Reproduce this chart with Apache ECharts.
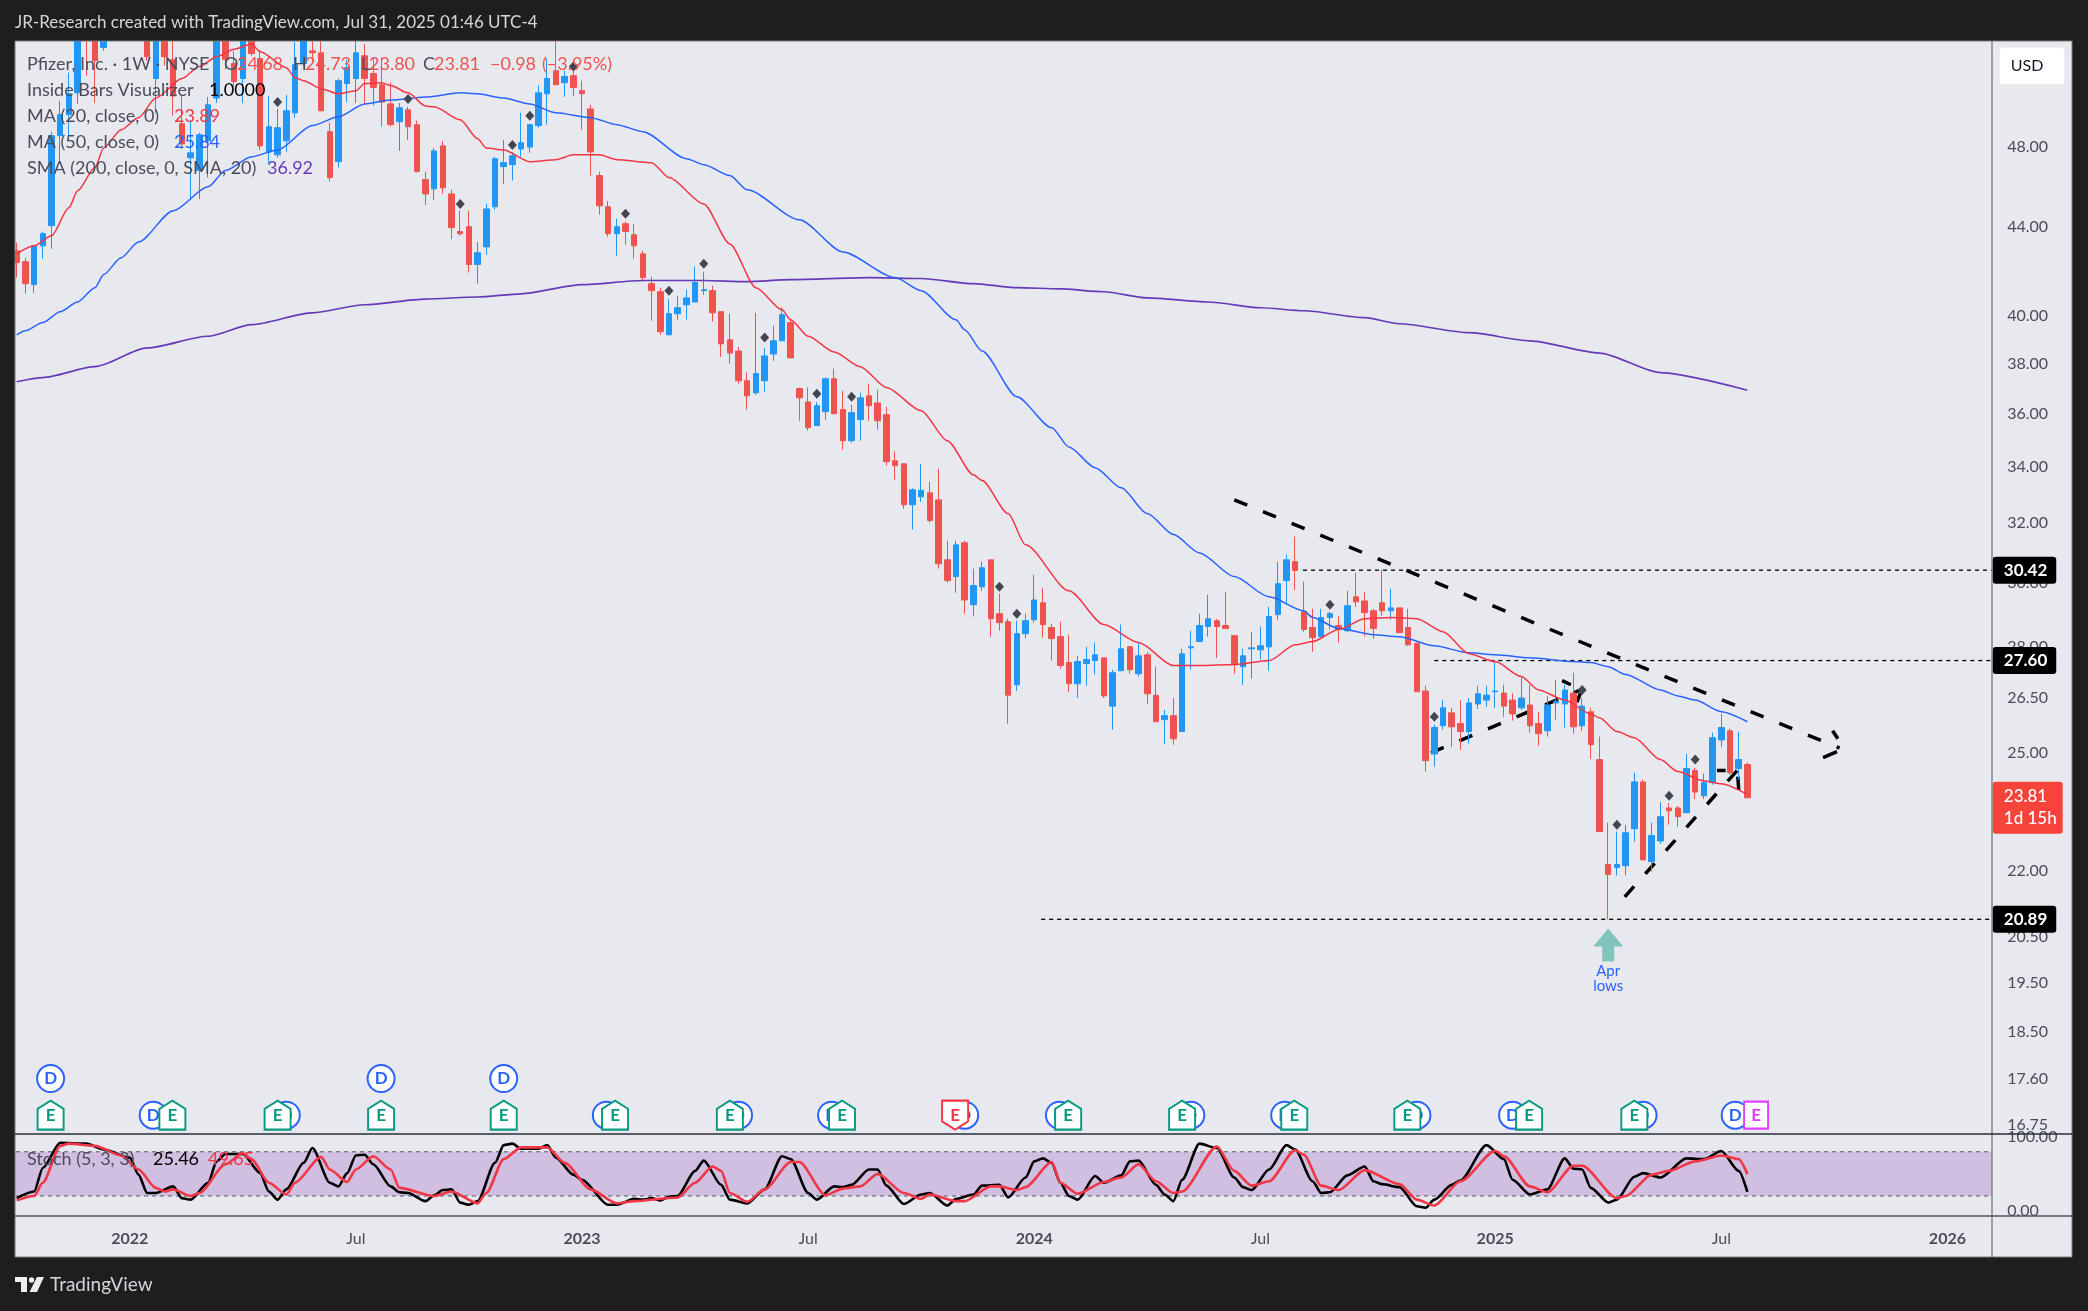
<!DOCTYPE html>
<html><head><meta charset="utf-8">
<style>html,body{margin:0;padding:0;background:#1e1e1e}#c{width:2088px;height:1311px}</style>
<script src="https://cdn.jsdelivr.net/npm/echarts@6/dist/echarts.min.js"></script>
</head><body><div id="c"></div><script>
const opens=[42.90,42.40,41.37,43.13,44.08,48.56,49.67,50.85,55.50,54.50,
53.40,55.50,57.40,56.00,58.40,56.00,51.64,55.00,52.70,49.19,
47.42,46.77,48.29,50.57,54.80,52.48,51.64,55.00,52.76,47.72,
47.57,48.29,49.77,52.48,53.20,53.09,48.77,47.22,51.36,51.64,
52.92,51.92,51.30,50.25,49.30,49.93,49.14,46.32,45.86,48.03,
45.61,43.80,44.03,42.27,43.08,44.98,46.97,47.07,47.87,47.97,
49.09,50.80,52.08,51.41,51.80,50.97,49.98,46.52,44.98,43.70,
44.17,43.65,42.76,41.41,41.05,39.19,40.09,40.48,40.60,41.10,
41.10,40.18,38.98,38.51,37.30,36.82,37.30,38.39,38.94,39.71,
36.99,36.46,35.54,36.08,37.38,36.16,34.97,35.77,36.70,36.42,
35.96,34.22,34.11,32.64,32.92,33.06,32.81,30.76,30.21,31.33,
29.31,29.88,30.76,29.03,28.78,26.89,28.41,28.84,29.37,28.60,
28.32,27.54,26.92,27.51,27.60,27.68,26.28,27.30,28.01,27.21,
27.77,26.59,25.90,26.01,25.57,27.98,28.17,28.63,28.81,28.66,
28.35,27.42,27.95,27.92,28.01,29.00,30.08,30.70,29.09,28.60,
28.32,28.91,28.66,28.50,29.56,29.43,29.12,29.37,29.12,29.21,
28.60,28.11,26.71,24.96,25.73,26.09,25.79,25.57,26.34,26.45,
26.69,26.65,26.45,26.23,26.31,25.79,25.59,26.37,26.34,26.65,
25.73,26.12,24.81,22.16,22.09,22.13,23.03,24.22,22.23,22.73,
23.55,23.55,23.43,24.52,23.86,24.20,25.34,25.59,24.57,24.68];
const closes=[42.36,41.41,43.13,43.70,48.56,49.67,50.80,54.20,54.20,52.64,
55.50,57.00,56.00,58.60,56.20,52.87,55.00,52.87,50.68,48.13,
47.67,48.61,50.20,54.50,52.70,51.47,54.00,53.04,48.03,49.03,
48.98,49.88,52.42,54.50,53.09,49.88,46.42,51.52,52.25,53.09,
51.64,51.14,50.35,49.14,50.04,49.03,46.72,45.61,47.77,45.91,
43.98,43.70,42.27,42.81,44.88,47.37,47.17,47.52,48.19,49.14,
50.85,51.64,51.30,51.75,51.14,50.80,47.72,45.03,43.70,44.03,
43.80,43.13,41.68,41.10,39.32,40.09,40.35,40.78,41.46,41.14,
40.13,38.81,38.43,37.30,36.70,37.59,38.31,38.94,40.05,38.23,
36.62,35.46,36.31,37.38,36.00,34.97,36.04,36.62,36.31,35.73,
34.19,34.04,32.64,33.17,33.15,32.09,30.63,30.08,31.26,29.46,
29.92,30.50,28.87,28.75,26.59,28.41,28.81,29.46,28.69,28.26,
27.45,26.92,27.57,27.63,27.77,26.57,27.24,27.95,27.33,27.74,
26.63,25.84,26.01,25.37,27.80,28.01,28.66,28.87,28.63,28.57,
27.51,27.74,27.98,28.04,28.94,29.98,30.76,30.41,28.54,28.29,
28.91,29.03,28.54,29.28,29.40,29.06,28.57,29.12,29.21,28.44,
28.07,26.69,24.78,25.68,26.23,25.70,25.57,26.37,26.63,26.59,
26.71,26.28,26.06,26.51,25.73,25.51,26.31,26.42,26.74,25.70,
26.28,25.21,22.96,21.92,22.16,22.93,24.22,22.27,22.86,23.33,
23.48,23.33,24.57,23.96,24.20,25.40,25.68,24.46,24.81,23.81];
const highs=[43.27,42.58,43.18,43.80,48.77,50.41,51.97,55.00,56.00,55.50,
56.00,57.80,58.50,59.40,59.00,57.00,56.00,56.00,54.00,50.68,
49.35,48.72,50.63,55.50,56.00,53.20,55.00,56.00,53.26,50.68,
49.98,50.74,53.70,55.50,54.20,54.00,49.24,51.64,52.70,54.00,
53.60,52.81,52.81,51.41,50.30,50.09,49.35,46.72,47.92,48.29,
45.81,44.79,44.79,43.31,45.12,47.47,48.34,47.72,49.77,49.19,
51.25,52.76,54.50,52.08,52.08,51.52,50.20,46.72,45.26,44.41,
44.27,44.17,42.90,41.72,41.23,40.73,40.87,41.14,42.18,41.95,
41.32,40.18,40.09,38.68,37.63,40.13,38.64,39.58,40.35,39.83,
37.03,37.03,36.46,37.43,37.79,36.90,36.35,36.82,37.18,36.94,
36.27,34.58,34.11,33.22,34.11,33.46,33.93,31.40,31.40,31.40,
30.47,30.70,30.76,29.66,28.87,28.81,29.03,30.27,29.85,28.72,
28.78,28.38,27.74,28.01,28.14,27.68,27.33,28.69,28.04,28.14,
27.86,27.42,26.17,26.51,27.95,28.50,29.03,29.62,28.87,29.72,
28.35,27.95,28.47,28.63,29.24,30.70,30.93,31.54,30.05,29.18,
29.18,29.09,28.94,29.75,30.34,29.72,29.18,30.44,29.82,29.21,
29.18,28.14,26.86,25.76,26.45,26.23,26.45,26.51,26.86,26.86,
27.57,26.89,26.65,27.10,26.89,26.12,26.57,27.04,26.89,27.24,
26.51,26.23,25.43,23.18,22.96,23.13,24.46,24.28,23.18,23.70,
23.68,23.60,24.96,24.59,24.44,25.54,26.06,25.65,25.57,24.73];
const lows=[41.68,40.96,41.01,42.54,42.99,47.12,48.29,50.25,51.80,50.30,
53.20,54.90,55.20,55.30,55.00,52.64,49.77,52.36,49.61,47.87,
45.41,45.36,46.42,50.30,52.14,51.19,50.30,52.92,47.82,47.17,
47.42,47.72,49.51,52.36,52.59,49.85,46.22,46.92,50.35,50.30,
50.30,50.14,49.03,49.03,47.77,48.34,46.67,45.07,45.31,45.61,
43.45,43.60,41.91,41.41,42.72,44.84,46.11,46.27,47.47,47.67,
48.98,49.14,51.30,50.63,50.68,48.88,46.52,44.60,43.55,42.67,
43.18,42.54,41.50,39.79,39.19,39.19,39.83,39.83,40.60,40.91,
39.75,38.27,37.99,37.18,36.16,36.74,36.86,38.11,38.94,38.23,
35.73,35.35,35.54,35.77,36.00,34.62,34.89,34.97,35.73,35.39,
34.04,33.53,32.50,31.78,32.74,32.02,30.47,30.01,29.69,29.03,
28.94,29.75,28.32,28.50,25.79,26.71,28.26,28.75,28.29,27.60,
27.36,26.68,26.51,26.86,27.19,26.51,25.62,27.30,27.21,27.13,
26.34,25.84,25.23,25.21,25.57,27.33,28.17,28.32,27.68,28.57,
27.21,26.89,27.07,27.63,27.30,28.84,29.31,29.78,28.47,27.86,
28.32,28.54,28.14,28.47,29.24,28.32,28.26,28.97,28.84,28.44,
28.04,26.69,24.49,24.62,25.62,25.15,25.07,25.24,26.20,26.26,
26.23,25.98,25.87,26.17,25.54,25.18,25.43,25.90,25.68,25.51,
25.59,24.83,22.96,20.89,21.90,21.90,22.71,22.27,21.99,22.66,
23.13,23.08,23.43,23.78,23.78,24.15,25.15,24.41,24.28,23.80];

const ma20=[[0,42.76],[2,43.13],[4,43.60],[6,44.93],[7,45.76],[9,46.92],[10,47.92],[12,48.87],[14,49.51],[16,50.57],[19,51.64],[21,52.31],[23,52.87],[25,53.30],[27,53.60],[28,53.15],[31,52.25],[32,51.70],[33,51.52],[35,51.08],[37,50.80],[39,50.97],[40,51.36],[42,51.41],[43,51.25],[45,50.85],[47,50.14],[48,50.09],[51,49.40],[53,48.40],[54,47.92],[56,47.82],[59,47.22],[62,47.32],[64,47.57],[67,47.57],[69,47.32],[73,47.17],[75,46.42],[79,45.12],[82,43.22],[85,41.23],[88,40.26],[89,39.83],[91,39.13],[94,38.47],[97,37.87],[100,37.03],[104,36.12],[107,34.97],[110,33.71],[111,33.50],[114,32.33],[116,31.26],[121,29.75],[125,28.69],[129,28.14],[133,27.45],[136,27.45],[140,27.48],[144,27.60],[147,28.07],[149,28.17],[152,28.54],[155,28.87],[158,28.91],[161,28.87],[164,28.47],[167,27.80],[170,27.57],[173,27.13],[175,26.74],[178,26.45],[181,26.06],[182,25.95],[184,25.57],[186,25.40],[189,24.81],[191,24.49],[194,24.25],[196,24.17],[199,23.89]];
const ma50=[[0,39.19],[1,39.36],[3,39.71],[5,40.18],[7,40.60],[9,41.23],[10,41.82],[12,42.58],[14,43.31],[18,44.79],[22,45.96],[24,46.77],[27,47.47],[30,47.82],[34,49.09],[37,49.56],[40,50.25],[43,50.46],[47,50.63],[51,50.85],[53,50.80],[56,50.57],[59,50.25],[62,49.77],[66,49.51],[69,49.14],[72,48.77],[77,47.37],[79,47.07],[82,46.52],[84,45.81],[90,44.36],[95,42.85],[101,41.68],[104,41.10],[108,39.83],[109,39.41],[111,38.51],[115,36.66],[119,35.46],[121,34.73],[124,33.97],[127,33.24],[130,32.33],[133,31.61],[136,30.99],[140,30.21],[144,29.56],[148,29.12],[149,28.91],[152,28.57],[156,28.38],[159,28.32],[163,28.04],[167,27.83],[170,27.77],[174,27.68],[179,27.57],[181,27.54],[183,27.42],[185,27.19],[189,26.74],[191,26.57],[193,26.45],[196,26.12],[199,25.84]];
const sma200=[[0,37.26],[3,37.43],[9,37.87],[15,38.64],[22,39.13],[27,39.62],[34,40.13],[40,40.48],[47,40.73],[53,40.82],[58,40.96],[65,41.37],[72,41.55],[79,41.55],[84,41.50],[89,41.59],[98,41.68],[104,41.64],[110,41.41],[115,41.23],[120,41.18],[125,41.05],[130,40.78],[137,40.60],[143,40.35],[148,40.22],[155,39.92],[159,39.66],[167,39.28],[174,38.94],[182,38.43],[189,37.63],[199,36.92]];
const stochK=[[0,17],[2,26],[3,58],[5,92],[8,91],[10,83],[13,72],[14,49],[15,24],[16,24],[18,33],[19,17],[20,15],[22,38],[23,67],[24,77],[26,77],[28,51],[29,26],[30,15],[31,29],[33,65],[34,85],[36,38],[37,33],[38,51],[39,75],[40,76],[41,63],[43,33],[44,25],[45,24],[47,13],[48,21],[49,28],[50,29],[51,11],[52,8],[53,13],[55,65],[56,89],[57,91],[58,84],[60,84],[61,89],[62,72],[64,49],[65,42],[68,8],[69,8],[71,16],[72,15],[73,17],[74,14],[75,19],[76,20],[78,54],[79,68],[81,35],[82,15],[84,10],[86,29],[88,74],[89,70],[91,24],[92,15],[94,33],[95,32],[96,35],[98,56],[99,56],[100,34],[102,9],[104,22],[105,24],[107,7],[108,16],[110,22],[111,34],[113,35],[114,18],[116,45],[117,67],[118,71],[119,65],[120,38],[121,20],[122,15],[124,47],[125,38],[127,48],[128,67],[129,68],[131,35],[132,22],[133,13],[134,42],[136,91],[138,85],[140,45],[141,32],[142,28],[144,56],[146,89],[147,83],[149,40],[150,24],[151,25],[153,48],[155,60],[156,40],[157,36],[159,32],[161,6],[162,4],[163,15],[165,35],[166,41],[169,89],[171,70],[172,42],[174,22],[176,29],[178,71],[179,57],[180,56],[181,31],[183,11],[184,15],[186,46],[187,51],[189,45],[192,71],[194,70],[196,81],[198,54],[199,25.46]];
const stochD=[[0,14],[2,20],[3,38],[5,88],[6,91],[9,88],[12,75],[14,56],[16,31],[17,26],[18,29],[20,20],[21,24],[24,63],[26,78],[27,70],[29,38],[31,22],[32,38],[35,73],[36,56],[38,39],[39,56],[41,74],[43,56],[44,31],[48,20],[50,26],[53,10],[54,24],[56,70],[58,86],[61,86],[63,65],[66,29],[69,10],[71,13],[76,18],[78,38],[80,60],[81,54],[82,24],[84,12],[86,29],[89,66],[90,66],[93,21],[95,30],[97,33],[99,50],[102,24],[104,16],[105,22],[108,13],[109,13],[112,33],[113,33],[115,28],[116,32],[119,66],[120,38],[122,23],[125,39],[127,45],[129,63],[131,40],[133,24],[134,26],[138,87],[140,54],[142,34],[144,40],[147,82],[148,76],[150,34],[152,28],[155,55],[159,36],[161,15],[163,7],[166,40],[170,81],[171,74],[174,33],[176,25],[179,61],[180,61],[184,17],[185,20],[188,49],[190,54],[193,67],[196,75],[198,70],[199,49.65]];
const insideBarMarks=[[30,50.35],[45,50.52],[51,45.12],[57,48.08],[59,49.61],[64,52.31],[70,44.65],[75,41.10],[79,42.31],[86,39.08],[92,36.78],[96,36.66],[113,29.88],[115,29.03],[151,29.31],[163,25.98],[180,26.74],[184,23.13],[190,23.86],[193,24.81]];
const trendLines=[[[140,32.81],[209.6,25.12]],[[162.6,24.99],[180.1,26.77]],[[184.9,21.40],[197.9,24.54]]];
const arrowBarbs=[[[209.4,25.37],[208.8,25.59]],[[209.3,25.02],[207.7,24.86]],[[177.7,27.01],[178.7,26.89]],[[179.8,26.65],[179.4,26.39]],[[195.5,24.52],[196.5,24.52]],[[197.9,24.36],[198,24.01]]];
const levelLines=[[147.9,30.42],[163,27.60],[117.8,20.89]];
const levelEnd=227.1;
const dividendUpper=[3.9,41.9,56];
const dividendLower=[15.7,31,67.8,83,93.7,109,119.9,135,145.8,161,172,187,197.6];
const earningsBeat=[3.9,17.9,30,41.9,56,68.8,82,94.9,120.9,134,146.9,159.9,173.9,186];
const earningsMiss=[107.9];
const earningsNext=[200];
const upperRowPrice=17.60, lowerRowPrice=16.92;
const priceTicks=[48,44,40,38,36,34,32,30,28,26.5,25,22,20.5,19.5,18.5,17.6,16.75];
const timeTickIndex=[13,39,65,91,117,143,170,196,222];
const timeTickLabels=['2022','Jul','2023','Jul','2024','Jul','2025','Jul','2026'];
const weekCount=228;
const categories=[];
for(let i=0;i<weekCount;i++){const d=new Date(Date.UTC(2021,9,4+7*i));categories.push(d.toISOString().slice(0,10));}

const FONT='Lato, "Noto Sans", sans-serif';
const PLOT='#E8E9EF', DARK='#1E1E1E', TXT='#4A4C58', UP='#2196F3', DOWN='#EF5350';
const grids=[{left:12.35,width:1982.9,top:41,height:1093},{left:12.35,width:1982.9,top:1134,height:82}];
const candleData=opens.map((o,i)=>[o,closes[i],lows[i],highs[i]]);
const logTicks=priceTicks.map(Math.log);

function seg(data,o){return Object.assign({type:'line',xAxisIndex:2,yAxisIndex:0,data,symbol:'none',silent:true,animation:false,z:1,lineStyle:{color:'#000',width:3.5}},o||{});}
function tag(i,p,text,bg,extra){
  return {type:'scatter',xAxisIndex:2,yAxisIndex:0,symbolSize:0,data:[[i,p]],silent:true,z:20,itemStyle:{opacity:1},
    label:Object.assign({show:true,position:'right',distance:1,formatter:text,color:'#fff',backgroundColor:bg,fontFamily:FONT,fontSize:17,fontWeight:700,opacity:1,
      padding:[5,9,5,11],borderRadius:3},extra||{})};
}
function marker(xs,price,sym,size,fill,stroke,txt,z){
  return {type:'scatter',xAxisIndex:2,yAxisIndex:0,symbol:sym,symbolSize:size,silent:true,z,
    clip:false,data:xs.map(x=>[x,price]),itemStyle:{color:fill,borderColor:stroke,borderWidth:2,opacity:1},
    label:{show:true,position:'inside',formatter:txt,color:stroke,fontFamily:FONT,fontSize:17,fontWeight:700,opacity:1}};
}
const EUP='path://M0 9 L12 0 L24 9 L24 32 L0 32 Z', EDOWN='path://M0 0 L24 0 L24 23 L12 32 L0 23 Z';
const smoothLine={smooth:0.25,smoothMonotone:'x'};

const series=[
  ...trendLines.map(s=>seg(s,{lineStyle:{color:'#000',width:3.5,type:[14,17]}})),
  ...arrowBarbs.map(s=>seg(s)),
  ...levelLines.map(l=>seg([[l[0],l[1]],[levelEnd,l[1]]],{lineStyle:{color:'#000',width:1.3,type:[4,4]}})),
  {type:'candlestick',xAxisIndex:0,yAxisIndex:0,data:candleData,barWidth:6,z:2,silent:true,clip:true,
    itemStyle:{color:UP,color0:DOWN,borderColor:UP,borderColor0:DOWN,borderWidth:1}},
  Object.assign({type:'line',xAxisIndex:0,yAxisIndex:0,data:sma200,symbol:'none',z:3,silent:true,lineStyle:{color:'#673AB7',width:1.7}},smoothLine),
  Object.assign({type:'line',xAxisIndex:0,yAxisIndex:0,data:ma50,symbol:'none',z:3,silent:true,lineStyle:{color:'#2962FF',width:1.5}},smoothLine),
  Object.assign({type:'line',xAxisIndex:0,yAxisIndex:0,data:ma20,symbol:'none',z:3,silent:true,lineStyle:{color:'#F23645',width:1.5}},smoothLine),
  {type:'scatter',xAxisIndex:0,yAxisIndex:0,data:insideBarMarks,symbol:'diamond',symbolSize:[9,10],z:4,silent:true,itemStyle:{color:'#434651',opacity:1}},
  {type:'scatter',xAxisIndex:2,yAxisIndex:0,data:[[183,20.32]],symbol:'path://M15 0 L30 18 L21 18 L21 33 L9 33 L9 18 L0 18 Z',symbolSize:[30,33],z:4,silent:true,
    itemStyle:{color:'#80C4BC',opacity:1},label:{show:true,position:'bottom',distance:2,formatter:'Apr\nlows',color:'#2962FF',fontFamily:FONT,fontSize:15,lineHeight:15,align:'center',opacity:1}},
  marker(dividendUpper,upperRowPrice,'circle',27,'#fff','#2962FF','D',5),
  marker(dividendLower,lowerRowPrice,'circle',27,'#fff','#2962FF','D',5),
  marker(earningsBeat,lowerRowPrice,EUP,[26,29],'#fff','#089981','E',6),
  marker(earningsMiss,lowerRowPrice,EDOWN,[26,29],'#fff','#F23645','E',6),
  marker(earningsNext,lowerRowPrice,'rect',[24,27],'#fff','#E040FB','E',6),
  tag(levelEnd,30.42,'30.42','#000'),
  tag(levelEnd,27.60,'27.60','#000'),
  tag(levelEnd,20.89,'20.89','#000'),
  tag(levelEnd,23.81,'23.81\n1d 15h','#F6443A',{offset:[0,10],lineHeight:22,padding:[4,6,4,11],align:'left',borderRadius:3,fontWeight:500}),
  {type:'line',xAxisIndex:3,yAxisIndex:1,data:[[-1,80],[levelEnd,80]],symbol:'none',silent:true,z:1,lineStyle:{color:'#6A6D78',width:1.2,type:[4,4]},
    markArea:{silent:true,z:0,itemStyle:{color:'#D0BFE0',opacity:1},data:[[{xAxis:-1,yAxis:20},{xAxis:levelEnd,yAxis:80}]]}},
  {type:'line',xAxisIndex:3,yAxisIndex:1,data:[[-1,20],[levelEnd,20]],symbol:'none',silent:true,z:1,lineStyle:{color:'#6A6D78',width:1.2,type:[4,4]}},
  Object.assign({type:'line',xAxisIndex:1,yAxisIndex:1,data:stochK,symbol:'none',silent:true,z:3,lineStyle:{color:'#000',width:2.6}},smoothLine),
  Object.assign({type:'line',xAxisIndex:1,yAxisIndex:1,data:stochD,symbol:'none',silent:true,z:3,lineStyle:{color:'#F23645',width:2.6}},smoothLine)
];

function txt(t,x,y,fill,size,weight){return {type:'text',z:40,silent:true,style:{text:t,x,y,fill:fill||TXT,fontFamily:FONT,fontSize:size||18,fontWeight:weight||400,verticalAlign:'middle'}};}
const R='#EF5350';
const legend=[
 ['Pfizer, Inc. · 1W · NYSE',27,64,TXT],['O',224,64,TXT],['24.68',237,64,R],['H',293,64,TXT],['24.73',305,64,R],['L',361,64,TXT],['23.80',369,64,R],['C',423,64,TXT],['23.81',434,64,R],['−0.98',490,64,R],['(−3.95%)',542,64,R],
 ['Inside Bars Visualizer',27,90.5,TXT],['1.0000',209,90.5,'#000'],
 ['MA (20, close, 0)',27,116.5,TXT],['23.89',174,116.5,'#F23645'],
 ['MA (50, close, 0)',27,142.5,TXT],['25.84',174,142.5,'#2962FF'],
 ['SMA (200, close, 0, SMA, 20)',27,168.5,TXT],['36.92',267,168.5,'#673AB7'],
 ['Stoch (5, 3, 3)',27,1159,TXT],['25.46',153,1159,'#000'],['49.65',208,1159,'#F23645']
];
const graphic=[
 {type:'rect',z:-5,silent:true,shape:{x:15,y:41,width:2057,height:1216},style:{fill:PLOT}},
 {type:'rect',z:30,silent:true,shape:{x:0,y:41,width:15,height:1216},style:{fill:DARK}},
 {type:'rect',z:30,silent:true,shape:{x:0,y:0,width:2088,height:41},style:{fill:DARK}},
 {type:'rect',z:31,silent:true,shape:{x:15,y:41,width:2057,height:1216},style:{fill:'none',stroke:'#7A7A7A',lineWidth:1}},
 {type:'line',z:31,silent:true,shape:{x1:1992,y1:41,x2:1992,y2:1257},style:{stroke:'#50535E',lineWidth:1}},
 {type:'line',z:31,silent:true,shape:{x1:15,y1:1134,x2:2072,y2:1134},style:{stroke:'#2A2E39',lineWidth:1.5}},
 {type:'line',z:31,silent:true,shape:{x1:15,y1:1216,x2:2072,y2:1216},style:{stroke:'#50535E',lineWidth:1.5}},
 {type:'rect',z:32,silent:true,shape:{x:1999,y:47,width:66,height:38,r:4},style:{fill:'#fff',stroke:'#E0E3EB'}},
 {type:'text',z:33,silent:true,style:{text:'USD',x:2027,y:66,fill:'#131722',fontFamily:FONT,fontSize:16,align:'center',verticalAlign:'middle'}},
 txt('JR-Research created with TradingView.com, Jul 31, 2025 01:46 UTC-4',15,23,'#D6D6D6',17),
 txt('TradingView',50,1285,'#D1D4DC',19),
 {type:'polygon',z:40,silent:true,shape:{points:[[15,1277],[27,1277],[27,1292],[21,1292],[21,1282],[15,1282]]},style:{fill:'#EDEDED'}},
 {type:'circle',z:40,silent:true,shape:{cx:31.5,cy:1280,r:2.7},style:{fill:'#EDEDED'}},
 {type:'polygon',z:40,silent:true,shape:{points:[[37,1277],[44,1277],[37,1292],[29.5,1292]]},style:{fill:'#EDEDED'}},
 ...legend.map(l=>txt(l[0],l[1],l[2],l[3]))
];

const chart=echarts.init(document.getElementById('c'),null,{renderer:'canvas',width:2088,height:1311});
const hiddenCat=i=>({type:'category',gridIndex:i,data:categories,show:false});
const hiddenVal=i=>({type:'value',gridIndex:i,min:-0.5,max:weekCount-0.5,show:false,splitLine:{show:false}});
chart.setOption({
 animation:false,backgroundColor:DARK,textStyle:{fontFamily:FONT},grid:grids,graphic,
 xAxis:[hiddenCat(0),
  {type:'category',gridIndex:1,data:categories,position:'bottom',axisLine:{show:false},axisTick:{show:false},splitLine:{show:false},
   axisLabel:{show:true,interval:i=>timeTickIndex.includes(i),margin:15,fontFamily:FONT,fontSize:16,color:TXT,
    formatter:(v,i)=>{const k=timeTickIndex.indexOf(i);if(k<0)return '';return /\d/.test(timeTickLabels[k])?'{y|'+timeTickLabels[k]+'}':timeTickLabels[k];},
    rich:{y:{fontFamily:FONT,fontSize:16,fontWeight:700,color:TXT}}}},
  hiddenVal(0),hiddenVal(1)],
 yAxis:[
  {type:'log',logBase:Math.E,gridIndex:0,position:'right',min:16.58,max:53.77,axisLine:{show:false},axisTick:{show:false},splitLine:{show:false},minorTick:{show:false},
   axisLabel:{show:true,inside:false,margin:12,fontFamily:FONT,fontSize:16,color:TXT,customValues:priceTicks.concat(logTicks),
    formatter:v=>{const p=v<10?Math.exp(v):v;return p.toFixed(2);}}},
  {type:'value',gridIndex:1,position:'right',min:-7.2,max:104.1,axisLine:{show:false},axisTick:{show:false},splitLine:{show:false},
   axisLabel:{show:true,margin:12,fontFamily:FONT,fontSize:16,color:TXT,customValues:[0,100],formatter:v=>v.toFixed(2)}}
 ],
 series
});
</script></body></html>
